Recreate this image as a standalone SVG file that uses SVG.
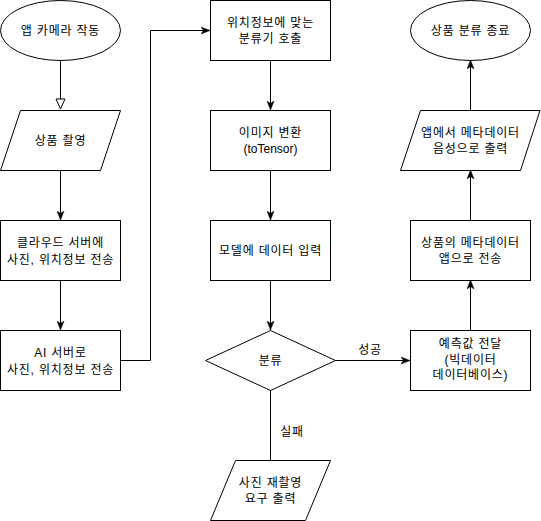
<svg xmlns="http://www.w3.org/2000/svg" width="541" height="521" viewBox="0 0 541 521">
<style>
.s{fill:#fff;stroke:#000;stroke-width:1}
.t{font-family:"Liberation Sans","Noto Sans CJK KR",sans-serif;font-size:12px;letter-spacing:0.8px;fill:#000;text-anchor:middle;dominant-baseline:central}
.l{letter-spacing:0}
.c{fill:none;stroke:#000;stroke-width:1}
</style>
<defs>
<marker id="a" markerUnits="userSpaceOnUse" markerWidth="10" markerHeight="8" viewBox="0 0 10 8" refX="9" refY="4" orient="auto">
<path d="M0,0.5 L9,4 L0,7.5 L2.5,4 Z" fill="#000" stroke="#000" stroke-width="0.5"/>
</marker>
<marker id="h" markerUnits="userSpaceOnUse" markerWidth="12" markerHeight="12" viewBox="0 0 12 12" refX="11" refY="6" orient="auto">
<path d="M1,1.5 L11,6 L1,10.5 Z" fill="#fff" stroke="#000" stroke-width="1"/>
</marker>
</defs>
<rect width="541" height="521" fill="#fff"/>
<g id="connectors">
<path class="c" d="M60.5,60 L60.5,109" marker-end="url(#h)"/>
<path class="c" d="M60.5,170 L60.5,220" marker-end="url(#a)"/>
<path class="c" d="M60.5,280 L60.5,330" marker-end="url(#a)"/>
<path class="c" d="M121,360.5 L150.5,360.5 L150.5,30.5 L210,30.5" marker-end="url(#a)"/>
<path class="c" d="M270.5,60 L270.5,110" marker-end="url(#a)"/>
<path class="c" d="M270.5,170 L270.5,220" marker-end="url(#a)"/>
<path class="c" d="M270.5,280 L270.5,330" marker-end="url(#a)"/>
<path class="c" d="M335,360.5 L410,360.5" marker-end="url(#a)"/>
<path class="c" d="M270.5,390 L270.5,460"/>
<path class="c" d="M470.5,330 L470.5,280" marker-end="url(#a)"/>
<path class="c" d="M470.5,220 L470.5,170" marker-end="url(#a)"/>
<path class="c" d="M470.5,110 L470.5,60" marker-end="url(#a)"/>
<text class="t" x="370" y="350">성공</text>
<text class="t" x="292" y="432">실패</text>
</g>
<g id="n1"><ellipse class="s" cx="60.5" cy="30.5" rx="60" ry="30"/><text class="t" x="60.5" y="30.5">앱 카메라 작동</text></g>
<g id="n2"><polygon class="s" points="20.5,110.5 120.5,110.5 100.5,170.5 0.5,170.5"/><text class="t" x="60.5" y="140.5">상품 촬영</text></g>
<g id="n3"><rect class="s" x="0.5" y="220.5" width="120" height="60"/><text class="t" x="60.5" y="242.5">클라우드 서버에</text><text class="t" x="60.5" y="259.5">사진, 위치정보 전송</text></g>
<g id="n4"><rect class="s" x="0.5" y="330.5" width="120" height="60"/><text class="t" x="60.5" y="352.5">AI 서버로</text><text class="t" x="60.5" y="369.5">사진, 위치정보 전송</text></g>
<g id="n5"><rect class="s" x="210.5" y="0.5" width="120" height="60"/><text class="t" x="270.5" y="22.5">위치정보에 맞는</text><text class="t" x="270.5" y="39">분류기 호출</text></g>
<g id="n6"><rect class="s" x="210.5" y="110.5" width="120" height="60"/><text class="t" x="270.5" y="132.5">이미지 변환</text><text class="t l" x="270.5" y="148.5">(toTensor)</text></g>
<g id="n7"><rect class="s" x="210.5" y="220.5" width="120" height="60"/><text class="t" x="270.5" y="250.5">모델에 데이터 입력</text></g>
<g id="n8"><polygon class="s" points="270.5,330.5 335.5,360.5 270.5,390.5 205.5,360.5"/><text class="t" x="270.5" y="360.5">분류</text></g>
<g id="n9"><polygon class="s" points="235.5,460.5 330.5,460.5 305.5,520.5 210.5,520.5"/><text class="t" x="270.5" y="482.5">사진 재촬영</text><text class="t" x="270.5" y="499">요구 출력</text></g>
<g id="n10"><rect class="s" x="410.5" y="330.5" width="120" height="60"/><text class="t" x="470.5" y="344">예측값 전달</text><text class="t" x="470.5" y="359.5">(빅데이터</text><text class="t" x="470.5" y="375">데이터베이스)</text></g>
<g id="n11"><rect class="s" x="410.5" y="220.5" width="120" height="60"/><text class="t" x="470.5" y="242.5">상품의 메타데이터</text><text class="t" x="470.5" y="259">앱으로 전송</text></g>
<g id="n12"><polygon class="s" points="420.5,110.5 540,110.5 520.5,170.5 400.5,170.5"/><text class="t" x="470.5" y="132.5">앱에서 메타데이터</text><text class="t" x="470.5" y="149">음성으로 출력</text></g>
<g id="n13"><ellipse class="s" cx="470.5" cy="30.5" rx="60" ry="30"/><text class="t" x="470.5" y="30.5">상품 분류 종료</text></g>
</svg>
